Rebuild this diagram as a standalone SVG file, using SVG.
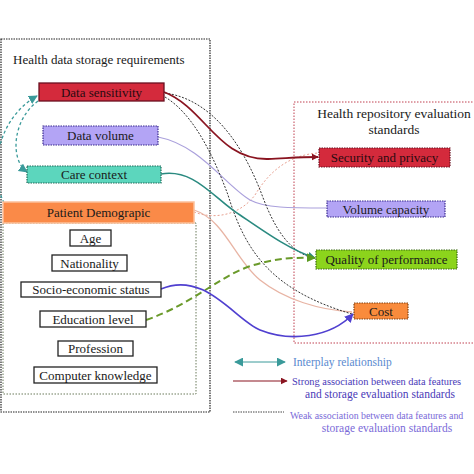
<svg xmlns="http://www.w3.org/2000/svg" width="474" height="474" viewBox="0 0 474 474" font-family="'Liberation Serif', 'Times New Roman', 'DejaVu Serif', serif">
<defs>
<marker id="mRed" viewBox="0 0 10 10" refX="9" refY="5" markerWidth="7" markerHeight="7" markerUnits="userSpaceOnUse" orient="auto"><path d="M0,0 L10,5 L0,10 z" fill="#8a1420"/></marker>
<marker id="mTeal" viewBox="0 0 10 10" refX="9" refY="5" markerWidth="8" markerHeight="8" markerUnits="userSpaceOnUse" orient="auto"><path d="M0,0 L10,5 L0,10 z" fill="#2a8a80"/></marker>
<marker id="mTealS" viewBox="0 0 10 10" refX="9" refY="5" markerWidth="9" markerHeight="9" markerUnits="userSpaceOnUse" orient="auto-start-reverse"><path d="M0,0 L10,5 L0,10 z" fill="#3a9a9a"/></marker>
<marker id="mGreen" viewBox="0 0 10 10" refX="9" refY="5" markerWidth="9" markerHeight="9" markerUnits="userSpaceOnUse" orient="auto"><path d="M0,0 L10,5 L0,10 z" fill="#5a9a20"/></marker>
<marker id="mBlue" viewBox="0 0 10 10" refX="9" refY="5" markerWidth="9" markerHeight="9" markerUnits="userSpaceOnUse" orient="auto"><path d="M0,0 L10,5 L0,10 z" fill="#5040d0"/></marker>
</defs>
<style>
text{font-family:'Liberation Serif','Times New Roman','DejaVu Serif',serif;fill:#1a1a1a;}
.lbl{font-size:13px;text-anchor:middle;}
.ttl{font-size:13px;}
.wbox{fill:#fff;stroke:#222;stroke-width:1.3;}
.leg{font-size:11.5px;}
.c{fill:none;}
</style>
<rect width="474" height="474" fill="#fff"/>
<g id="left-container">
<rect x="1" y="39" width="209" height="373" fill="none" stroke="#222" stroke-width="1.2" stroke-dasharray="1.5,1"/>
<text class="ttl" x="13" y="64">Health data storage requirements</text>
</g>
<g id="right-container">
<rect x="294" y="102" width="200" height="241" fill="none" stroke="#c04050" stroke-width="1" stroke-dasharray="1.5,1.5"/>
<text class="lbl" style="font-size:13.5px" x="394" y="118">Health repository evaluation</text>
<text class="lbl" style="font-size:13.5px" x="394" y="134">standards</text>
</g>
<g id="demographic-container">
<rect x="3" y="223" width="193" height="171" fill="none" stroke="#6a7a5a" stroke-width="1" stroke-dasharray="1.5,1.5"/>
</g>
<g id="connectors">
<path class="c" d="M194,212 C215,220 240,215 255,195 C270,170 290,155 318,153" stroke="#e8a090" stroke-width="1" stroke-dasharray="2,2"/>
<path class="c" d="M194,210 C225,220 235,260 260,280 C285,300 320,310 352,312" stroke="#e8b4a4" stroke-width="1.3"/>
<path class="c" d="M158,137 C200,145 225,185 250,200 C265,208 290,208 326,208" stroke="#aaa0dc" stroke-width="1.2"/>
<path class="c" d="M165,93 C215,100 245,150 262,195 C275,230 290,252 313,258" stroke="#333" stroke-width="1" stroke-dasharray="2,1.5"/>
<path class="c" d="M165,97 C195,115 215,160 228,195 C245,250 270,290 352,314" stroke="#333" stroke-width="1" stroke-dasharray="2,1.5"/>
<path class="c" d="M164,92 C205,108 218,160 268,159 C290,158 300,157 318,157" stroke="#8a1420" stroke-width="1.8" marker-end="url(#mRed)"/>
<path class="c" d="M161,174 C195,168 215,200 240,215 C265,232 290,250 315,258" stroke="#2a8a80" stroke-width="1.6" marker-end="url(#mTeal)"/>
<path class="c" d="M146,320 C190,305 215,280 245,268 C270,259 290,257 315,258" stroke="#6a9a2a" stroke-width="2" stroke-dasharray="7,4" marker-end="url(#mGreen)"/>
<path class="c" d="M161,289 C205,270 235,320 260,330 C290,342 330,338 353,314" stroke="#5040d0" stroke-width="1.7" marker-end="url(#mBlue)"/>
<path class="c" d="M4,203 C-12,170 -2,118 37,96" stroke="#3a9a9a" stroke-width="1.3" stroke-dasharray="3,2.5" marker-end="url(#mTealS)"/>
<path class="c" d="M38,101 C12,120 10,160 27,172" stroke="#3a9a9a" stroke-width="1.3" stroke-dasharray="3,2.5" marker-end="url(#mTealS)"/>
</g>
<g id="data-sensitivity">
<rect x="39" y="83" width="125" height="18" fill="#d42a3c" stroke="#6a1020" stroke-width="1.3"/>
<text class="lbl" x="101.5" y="96.5" style="fill:#2a0a10">Data sensitivity</text>
</g>
<g id="data-volume">
<rect x="43" y="126" width="115" height="19" fill="#b3a4f5" stroke="#3a2a90" stroke-width="1.2" stroke-dasharray="1.5,1"/>
<text class="lbl" x="100.5" y="140">Data volume</text>
</g>
<g id="care-context">
<rect x="27" y="166" width="134" height="17" fill="#5cd6bd" stroke="#1e6a5a" stroke-width="1.2" stroke-dasharray="1.5,1"/>
<text class="lbl" x="94" y="179">Care context</text>
</g>
<g id="patient-demographic">
<rect x="3" y="202" width="191" height="21" fill="#fa8a48" stroke="#fcc09a" stroke-width="1.5"/>
<text class="lbl" x="98.5" y="217">Patient Demograpic</text>
</g>
<g id="age"><rect class="wbox" x="70" y="230" width="41" height="16"/><text class="lbl" x="90.5" y="242.5">Age</text></g>
<g id="nationality"><rect class="wbox" x="52" y="255" width="75" height="16"/><text class="lbl" x="89.5" y="267.5">Nationality</text></g>
<g id="socio-economic-status"><rect class="wbox" x="21" y="282" width="140" height="15"/><text class="lbl" x="91" y="294">Socio-economic status</text></g>
<g id="education-level"><rect class="wbox" x="40" y="311" width="106" height="16"/><text class="lbl" x="93" y="323.5">Education level</text></g>
<g id="profession"><rect class="wbox" x="58" y="341" width="75" height="15"/><text class="lbl" x="95.5" y="353">Profession</text></g>
<g id="computer-knowledge"><rect class="wbox" x="34" y="367" width="123" height="16"/><text class="lbl" x="95.5" y="379.5">Computer knowledge</text></g>
<g id="security-and-privacy">
<rect x="319" y="148" width="131" height="19" fill="#d42a3c" stroke="#6a1020" stroke-width="1.2" stroke-dasharray="1.5,1"/>
<text class="lbl" x="384.5" y="162" style="fill:#2a0a10">Security and privacy</text>
</g>
<g id="volume-capacity">
<rect x="327" y="201" width="118" height="16" fill="#b3a4f5" stroke="#3a2a90" stroke-width="1.2" stroke-dasharray="1.5,1"/>
<text class="lbl" x="386" y="213.5">Volume capacity</text>
</g>
<g id="quality-of-performance">
<rect x="316" y="250" width="141" height="19" fill="#8cd41c" stroke="#3a6a10" stroke-width="1.2" stroke-dasharray="1.5,1"/>
<text class="lbl" x="386.5" y="264">Quality of performance</text>
</g>
<g id="cost">
<rect x="354" y="303" width="54" height="16" fill="#f98b3c" stroke="#804010" stroke-width="1.2" stroke-dasharray="1.5,1"/>
<text class="lbl" x="381" y="315.5">Cost</text>
</g>
<g id="legend">
<path d="M235,362 L285,362" stroke="#3a9a9a" stroke-width="1" fill="none" marker-start="url(#mTealS)" marker-end="url(#mTealS)"/>
<path d="M233,381 L287,381" stroke="#8a1420" stroke-width="1.2" fill="none" marker-end="url(#mRed)"/>
<path d="M233,412 L284,412" stroke="#444" stroke-width="1" stroke-dasharray="1.5,1" fill="none"/>
<text class="leg" x="293" y="366" style="fill:#5a8ad0">Interplay relationship</text>
<text class="leg" x="292" y="385" style="fill:#4a3ab8;font-size:10.4px">Strong association between data features</text>
<text class="leg" x="380" y="398" style="fill:#4a3ab8;text-anchor:middle">and storage evaluation standards</text>
<text class="leg" x="290" y="419" style="fill:#7a6ad8;font-size:9.9px">Weak association between data features and</text>
<text class="leg" x="387" y="432" style="fill:#7a6ad8;text-anchor:middle">storage evaluation standards</text>
</g>
</svg>
